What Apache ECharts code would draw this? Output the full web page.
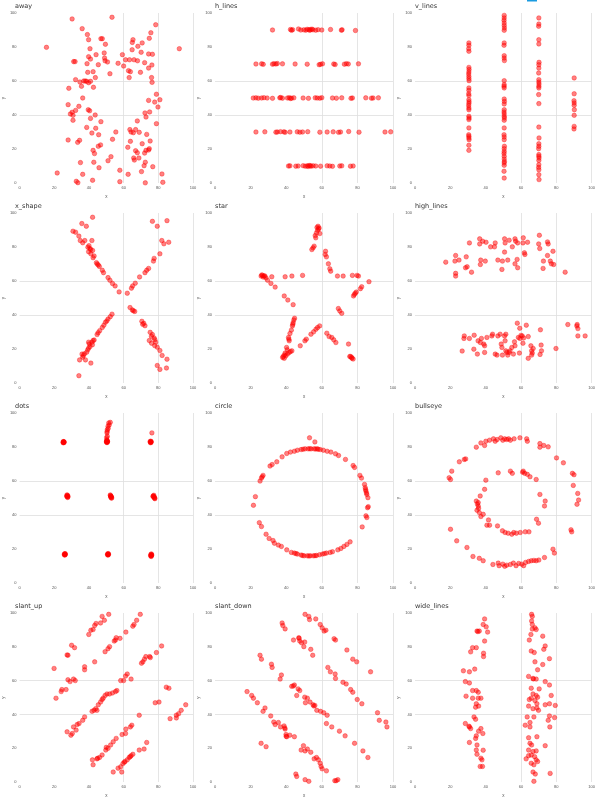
<!DOCTYPE html>
<html><head><meta charset="utf-8">
<script src="https://cdn.jsdelivr.net/npm/echarts@6/dist/echarts.min.js"></script>
<style>html,body{margin:0;padding:0;background:#fff}#c{width:598px;height:799px}</style>
</head><body><div id="c"></div>
<script>
const panelNames = ['away','h_lines','v_lines','x_shape','star','high_lines','dots','circle','bullseye','slant_up','slant_down','wide_lines'];
const tickValues = [0,20,40,60,80,100];

const away = [[30.3,96.5],[53.3,97.5],[36.1,90.8],[78.5,93.1],[75.7,88.4],[39.1,87.3],[39.8,84.3],[46.9,84.9],[47.7,84.9],[65.4,84.3],[65.0,82.7],[68.2,80.4],[70.7,82.4],[74.8,85.1],[64.9,78.4],[15.5,79.8],[92.1,79.0],[40.6,79.0],[49.5,81.6],[48.8,76.5],[44.1,75.5],[70.1,76.9],[74.4,75.9],[76.6,75.7],[59.3,75.5],[49.0,73.5],[39.8,74.3],[40.9,72.9],[49.3,71.9],[50.7,71.2],[61.1,72.5],[63.4,72.5],[66.0,72.5],[68.0,71.9],[31.2,71.4],[32.0,71.4],[38.9,70.2],[45.4,69.6],[56.8,70.4],[60.0,68.8],[72.1,70.8],[76.3,69.4],[74.4,67.6],[39.3,65.1],[42.4,65.5],[52.1,64.3],[62.8,66.1],[63.9,65.5],[69.7,65.1],[43.7,62.0],[63.2,62.0],[32.3,60.8],[34.8,59.4],[37.0,60.0],[37.9,60.0],[38.7,59.8],[39.8,59.0],[40.9,59.8],[76.1,62.0],[76.4,59.2],[35.7,56.9],[42.6,56.3],[28.4,55.7],[36.4,50.0],[78.9,52.2],[74.4,48.6],[80.9,49.0],[77.9,47.6],[79.8,44.7],[28.0,46.1],[34.2,45.1],[39.6,43.1],[40.4,42.5],[32.3,42.7],[30.3,41.6],[29.3,40.6],[30.8,39.8],[43.6,40.0],[72.3,41.2],[75.0,41.8],[72.9,38.8],[40.9,38.0],[30.8,36.9],[46.9,36.1],[67.9,36.5],[78.9,34.9],[55.5,30.0],[38.7,32.7],[43.9,32.2],[63.6,31.4],[64.3,30.0],[66.9,31.4],[65.6,29.6],[69.0,29.8],[73.3,28.6],[41.7,29.4],[45.6,28.4],[53.6,25.7],[63.9,24.5],[70.7,23.1],[75.3,24.7],[28.0,25.3],[34.6,25.1],[33.5,23.9],[46.7,22.4],[45.4,21.6],[62.4,21.0],[74.8,20.2],[74.4,19.4],[72.9,19.2],[66.9,19.0],[67.9,17.8],[72.1,17.6],[42.4,19.2],[43.2,17.3],[52.7,15.5],[51.0,13.1],[65.8,14.7],[68.8,14.7],[66.2,13.5],[72.5,12.2],[71.8,10.2],[76.8,9.6],[42.8,12.2],[35.1,12.0],[45.8,9.0],[57.8,7.5],[70.3,6.7],[21.7,5.9],[36.4,5.1],[62.6,5.1],[82.1,5.3],[32.7,1.0],[33.6,0.2],[42.1,1.6],[57.8,0.8],[72.5,0.1],[82.6,0.4]];

const h_lines = [[32.3,90],[42.4,90.3],[43.0,89.8],[43.6,90.2],[46.9,90.6],[49.9,90.1],[51.0,89.9],[51.8,90.4],[52.7,90.2],[53.3,89.8],[53.8,90.3],[55.1,90.1],[56.6,89.9],[57.9,90.2],[60.0,90.0],[64.9,90.3],[71.0,89.9],[71.4,90.1],[78.9,89.7],[48.2,90],[54.5,90.5],
[23.0,70],[26.2,70.1],[27.1,69.8],[32.3,69.9],[33.1,70.2],[34.2,70.0],[35.0,70.3],[37.9,70.1],[45.0,70.0],[51.8,69.9],[58.5,69.6],[59.3,69.8],[60.4,70.1],[66.7,70.0],[67.5,69.7],[72.7,69.9],[73.8,70.2],[74.9,70.0],[80.6,70.1],
[21.5,50],[23.0,50.1],[24.3,49.9],[26.2,50.0],[27.5,50.2],[29.3,50.0],[32.3,49.8],[36.4,50.1],[37.9,49.9],[40.7,50.0],[41.7,50.2],[43.0,49.9],[44.3,50.1],[49.5,50.0],[52.5,49.8],[56.3,50.1],[57.4,50.0],[58.9,49.9],[60.0,50.2],[66.0,50.0],[68.2,49.9],[71.2,50.1],[76.4,49.8],[77.2,50.0],[84.7,50.1],[87.9,49.9],[88.8,50.0],[91.8,50.1],[36.9,50.3],[42.4,49.7],
[23.0,30],[28.0,30.1],[34.2,29.9],[35.0,30.0],[36.8,30.2],[38.7,30.1],[39.4,29.8],[42.1,30.0],[46.2,30.1],[47.7,29.9],[49.2,30.0],[52.1,30.2],[58.9,29.9],[63.0,30.0],[66.4,30.1],[69.4,29.8],[70.5,30.0],[75.1,30.3],[80.9,29.9],[95.5,30.0],[98.7,30.1],
[41.3,10],[42.1,10.1],[45.4,9.9],[46.7,10.0],[49.5,10.2],[50.7,9.9],[51.8,10.1],[52.9,10.3],[54.0,9.9],[55.1,10.1],[56.6,10.0],[59.3,9.9],[63.0,10.1],[64.5,10.0],[66.0,9.8],[70.1,10.0],[71.2,10.1],[76.1,9.9],[77.6,10.0],[52.3,9.7],[53.5,10.2]];

const v_lines = [[30.5,82.4],[30.5,81.0],[30.4,79.0],[30.5,77.5],[30.5,68.0],[30.6,66.7],[30.5,65.3],[30.4,64.1],[30.5,62.7],[30.5,61.4],[30.6,60.2],[30.5,55.9],[30.5,54.5],[30.4,52.5],[30.5,51.4],[30.5,49.0],[30.6,47.8],[30.5,46.7],[30.4,45.5],[30.5,44.1],[30.5,43.1],[30.5,39.2],[30.6,38.2],[30.5,37.3],[30.5,32.4],[30.4,28.4],[30.5,27.5],[30.5,26.5],[30.6,25.5],[30.5,22.2],[30.5,19.2],
[50.5,98.6],[50.5,97.1],[50.4,95.7],[50.5,94.1],[50.5,92.7],[50.6,91.2],[50.5,89.8],[50.5,82.4],[50.4,81.0],[50.5,74.9],[50.5,73.5],[50.6,72.0],[50.5,60.2],[50.5,57.8],[50.4,56.9],[50.5,55.9],[50.5,49.4],[50.6,48.0],[50.5,46.5],[50.5,43.1],[50.4,41.8],[50.5,40.6],[50.5,39.2],[50.6,38.2],[50.5,36.9],[50.5,32.4],[50.4,28.4],[50.5,27.1],[50.5,25.5],[50.6,21.6],[50.5,20.2],[50.5,18.6],[50.4,17.3],[50.5,15.7],[50.5,14.1],[50.6,12.7],[50.5,11.8],[50.5,10.4],[50.4,6.9],[50.5,2.9],
[70.1,97.1],[70.1,93.5],[70.0,92.2],[70.1,84.3],[70.1,81.8],[70.2,71.0],[70.1,69.6],[70.1,67.6],[70.0,64.7],[70.1,60.8],[70.1,59.4],[70.2,58.2],[70.1,56.9],[70.1,55.9],[70.0,52.0],[70.1,46.7],[70.1,32.9],[70.2,26.5],[70.1,23.1],[70.1,21.6],[70.0,20.2],[70.1,16.7],[70.1,15.7],[70.2,14.7],[70.1,13.3],[70.1,10.8],[70.0,9.2],[70.1,7.8],[70.1,4.9],[70.2,2.0],
[90.1,61.8],[90.1,52.5],[90.0,48.4],[90.1,47.1],[90.1,45.7],[90.2,43.1],[90.1,39.8],[90.1,33.3],[90.0,31.8]];

const x_shape = [[42.1,97.5],[35.9,93.8],[38.5,92.2],[30.8,89.3],[32.3,88.7],[34.2,86.4],[35.0,83.8],[36.4,82.5],[37.6,83.8],[41.7,83.8],[39.4,79.9],[40.6,79.1],[39.8,77.2],[41.1,76.0],[42.1,78.0],[43.0,74.7],[42.4,73.7],[44.3,70.8],[45.4,69.4],[47.7,66.3],[48.4,64.9],[51.0,62.0],[52.1,60.4],[53.6,58.5],[55.1,57.1],[57.4,53.6],[40.0,80.8],[41.0,78.5],[44.8,70.0],[46.0,68.6],
[76.6,95.1],[85.0,95.5],[79.4,92.2],[82.0,83.8],[83.2,81.9],[86.0,82.8],[80.9,76.0],[77.6,73.3],[77.2,71.7],[74.4,67.4],[73.3,66.3],[72.3,64.9],[69.2,62.4],[66.7,58.7],[65.2,57.1],[64.5,55.8],[62.1,52.8],
[53.3,40.5],[52.3,39.0],[51.0,37.6],[49.5,35.7],[47.7,32.7],[46.2,30.8],[44.7,28.5],[43.0,25.3],[41.7,24.0],[39.8,24.0],[40.6,21.4],[39.3,19.5],[37.4,17.2],[36.4,15.2],[38.0,13.6],[34.6,13.6],[41.1,11.7],[34.2,4.3],[39.8,20.5],[42.4,25.0],[38.7,18.1],[36.8,16.2],[50.3,36.5],[48.6,34.0],[45.3,29.6],[42.0,22.5],[40.2,23.0],[36.0,17.0],
[63.7,44.4],[65.6,42.5],[66.4,42.1],[70.5,36.3],[71.6,35.1],[72.3,33.7],[75.3,29.8],[76.6,28.5],[77.6,26.5],[74.8,25.0],[78.5,24.0],[77.9,22.0],[79.4,21.1],[80.9,19.1],[82.2,16.2],[85.0,14.0],[79.4,10.3],[80.9,8.0],[84.7,8.8],[76.1,23.4],[65.0,43.0],[71.0,34.5],[76.0,27.5],[78.0,25.5]];

const star = [[57.9,92.2],[58.5,91.2],[57.6,89.8],[58.9,87.9],[56.3,86.7],[57.0,88.3],[56.6,85.4],[58.2,90.6],[57.3,91.5],[55.7,80.5],[54.4,78.5],[55.1,79.5],[62.1,77.5],[61.9,75.6],[62.6,74.2],[63.7,70.1],[64.5,67.2],[65.0,65.8],
[26.7,63.3],[27.6,62.9],[28.6,61.9],[29.5,60.5],[25.9,62.9],[26.3,63.6],[27.1,62.3],[28.0,63.0],[31.4,58.6],[33.8,56.4],[31.9,62.5],[39.4,62.5],[43.2,62.9],[49.2,63.3],[38.9,51.2],[40.9,48.8],[43.9,46.1],
[68.8,62.9],[72.0,62.9],[77.2,63.3],[79.8,63.3],[80.6,62.9],[86.5,59.6],[82.4,56.6],[81.7,55.5],[79.4,53.5],[78.3,52.1],[77.8,51.2],[78.8,52.8],
[69.3,43.8],[70.1,42.4],[71.2,41.0],[62.8,29.3],[64.1,27.3],[65.6,26.8],[66.7,25.4],[67.9,23.8],[75.0,22.9],[75.7,15.6],[76.8,15.0],[77.6,14.1],[76.2,15.6],[76.9,14.6],
[44.7,38.1],[43.9,35.5],[43.5,33.6],[42.9,31.1],[42.1,29.1],[41.3,26.8],[41.7,24.8],[40.2,20.9],[40.6,19.5],[39.4,17.6],[38.3,15.6],[38.9,14.5],[39.8,16.0],[40.7,17.0],[41.7,18.0],[43.2,18.9],[47.9,21.9],[50.5,24.8],[51.3,25.8],[53.9,28.7],[55.4,30.1],[56.7,31.6],[57.6,32.6],[58.8,33.6],[44.3,37.1],[43.7,34.5],[41.5,25.8],[38.0,15.0],[39.0,16.5],[42.4,18.5]];

const high_lines = [[17.4,71.1],[23.0,75.0],[22.6,71.7],[24.9,72.3],[29.0,74.2],[28.6,67.8],[29.5,68.4],[23.0,64.5],[23.0,62.9],[32.0,65.2],[30.8,82.4],[36.6,84.8],[38.3,83.4],[40.2,82.8],[36.6,81.8],[42.8,80.1],[45.0,80.1],[45.4,82.4],[50.7,84.8],[51.0,82.4],[53.3,84.0],[56.6,84.8],[57.0,83.4],[55.1,80.1],[58.1,82.4],[61.3,85.4],[61.1,82.4],[63.7,82.8],[61.9,76.6],[62.2,75.6],[70.4,86.9],[70.0,81.8],[70.6,79.1],[75.0,83.0],[75.4,81.8],[78.1,77.5],[75.0,75.0],[72.7,71.7],[72.5,67.4],[76.6,71.7],[77.2,70.1],[78.5,69.7],[85.0,65.2],[37.2,72.3],[37.0,69.7],[39.8,71.7],[46.9,72.3],[49.2,66.8],[49.5,71.7],[52.5,72.3],[56.6,70.1],[57.8,72.7],[58.1,67.8],[50.7,77.0],
[86.5,34.4],[91.8,34.4],[92.2,32.0],[92.2,27.7],[96.3,27.7],[91.6,33.6],[57.9,35.2],[59.3,32.2],[63.0,34.0],[64.1,27.3],[71.0,31.3],[71.4,22.3],[79.8,20.3],[27.9,27.7],[27.7,26.2],[30.8,26.2],[33.5,28.1],[26.7,18.8],[33.3,19.9],[35.3,17.0],[35.7,24.8],[37.6,26.2],[37.0,23.8],[38.9,22.9],[39.4,21.9],[39.4,18.0],[40.7,26.8],[43.5,27.7],[43.9,28.7],[45.4,17.0],[46.4,16.4],[46.9,27.7],[48.2,28.7],[48.8,22.9],[49.2,20.9],[49.5,16.4],[50.7,27.7],[51.4,28.7],[51.0,24.8],[51.4,18.9],[52.0,18.0],[52.5,16.4],[53.3,18.0],[53.8,18.9],[54.8,20.9],[55.7,17.0],[56.3,24.2],[56.6,21.9],[58.5,26.8],[59.4,26.2],[59.1,17.6],[60.7,27.7],[61.1,23.4],[64.1,14.5],[65.6,21.9],[66.0,18.9],[66.4,17.6],[66.9,20.3],[70.8,16.8],[71.6,18.9],[66.0,16.4],[60.0,28.0],[61.5,26.5]];

const dots = [[25.3,82.8],[25.6,83.1],[25.1,82.6],[25.5,82.9],[25.2,83.2],[25.7,82.7],[25.4,83.0],[25.3,82.5],
[50.4,83.0],[50.6,83.4],[50.2,82.8],[50.5,83.8],[50.3,84.2],[50.7,83.1],[50.4,82.6],[50.6,82.9],[50.2,83.5],[51.1,90.9],[50.5,89.1],[50.2,85.5],[50.1,83.1],[51.4,94.1],[52.3,94.5],[51.0,92.2],[50.6,90.2],[50.4,88.3],[50.6,86.3],[51.7,93.0],
[75.6,83.0],[75.3,83.3],[75.8,82.7],[75.5,82.5],[75.7,83.4],[75.4,82.9],[75.9,83.1],[76.3,88.3],
[27.4,51.2],[27.6,51.6],[27.2,51.0],[27.8,50.6],[27.5,50.9],[27.3,51.8],[27.7,50.3],[27.9,51.1],
[52.5,51.2],[52.3,51.8],[52.8,50.9],[52.6,50.4],[53.1,50.2],[52.4,51.4],[52.9,50.7],[53.0,49.9],
[77.1,51.2],[77.4,51.6],[76.9,50.9],[77.6,50.5],[77.9,49.8],[78.0,49.6],[77.3,51.0],[77.8,50.2],
[26.1,16.8],[25.9,17.1],[26.3,16.6],[26.0,16.4],[26.4,17.0],[26.2,17.3],[25.8,16.7],
[51.0,16.8],[50.8,17.1],[51.2,16.6],[50.9,16.4],[51.3,17.0],[51.1,17.3],[50.7,16.7],
[75.9,16.4],[75.7,16.8],[76.1,16.2],[75.8,15.9],[76.2,16.6],[76.0,17.1],[75.6,16.1],[75.9,15.6]];

const circle = [[53.1,85.4],[56.1,83.0],[37.7,74.2],[40.3,76.2],[42.4,77.0],[44.6,77.5],[46.3,78.1],[48.4,78.5],[50.6,78.9],[52.3,78.9],[54.0,78.9],[55.7,78.9],[57.4,78.9],[59.1,78.5],[60.9,78.1],[63.0,77.5],[65.1,77.0],[67.7,76.0],[69.4,75.0],[73.3,72.7],[34.7,71.3],[32.1,69.7],[30.9,68.8],[77.6,69.1],[78.4,68.0],[81.4,63.3],[82.3,61.7],[27.0,63.3],[26.1,61.7],[25.3,59.96],[26.5,62.5],[84.0,58.0],[84.4,56.1],[84.8,54.1],[85.3,52.1],[85.9,50.2],[22.7,50.8],[21.6,45.7],[86.1,44.9],[85.7,44.3],[84.8,39.5],[85.3,38.5],[82.7,33.0],[24.9,35.5],[26.1,33.2],[28.7,28.7],[30.4,26.2],[32.6,25.0],[33.4,23.4],[35.6,22.3],[37.3,21.5],[40.3,19.5],[42.9,18.0],[44.6,17.6],[46.3,17.0],[48.4,16.4],[50.1,16.0],[51.9,16.0],[53.6,16.0],[55.3,16.0],[57.0,16.2],[58.7,16.6],[60.4,17.0],[62.6,17.6],[64.7,18.0],[66.0,18.4],[69.0,19.5],[70.7,20.3],[72.4,21.5],[74.1,22.7],[75.9,24.2],[49.5,78.7],[53.2,79.0],[56.5,78.8],[58.0,78.7],[45.5,17.3],[49.2,16.2],[52.8,15.9],[56.2,16.1],[61.5,17.3],[84.6,55.0],[85.1,53.0]];

const bullseye = [[34.7,79.9],[37.3,82.4],[39.4,80.9],[40.1,83.4],[42.2,84.0],[44.4,84.8],[45.4,83.4],[46.5,84.4],[48.6,85.4],[49.7,84.0],[50.8,84.8],[51.9,84.4],[53.0,84.8],[54.0,84.0],[56.1,84.8],[59.4,85.4],[63.2,84.8],[63.6,83.4],[70.7,82.0],[72.9,80.9],[70.7,79.9],[75.4,80.1],[80.1,73.6],[84.0,70.7],[27.9,72.7],[25.1,71.3],[28.7,73.0],[20.8,65.8],[19.3,61.9],[20.1,60.9],[89.1,64.5],[90.0,63.7],[89.6,57.4],[92.1,52.7],[92.6,48.8],[91.7,46.3],[20.1,31.6],[23.6,24.8],[29.4,20.9],[32.8,15.6],[36.4,14.5],[38.6,13.1],[44.1,10.9],[47.1,11.7],[47.6,10.2],[49.7,11.1],[50.8,9.8],[51.9,10.5],[54.0,10.9],[55.7,11.7],[57.2,10.2],[58.7,11.5],[60.4,11.1],[61.5,10.2],[62.6,12.1],[64.3,12.7],[65.8,13.1],[67.3,13.3],[68.6,13.1],[70.1,13.5],[73.3,15.0],[78.1,19.9],[78.9,17.6],[88.3,31.3],[88.7,30.1],
[47.1,64.8],[54.0,65.8],[55.1,64.5],[60.9,65.2],[62.1,64.5],[63.6,63.9],[65.1,62.5],[61.3,65.8],[68.6,60.9],[40.1,60.5],[39.4,55.1],[36.9,51.2],[35.8,47.3],[34.7,48.2],[35.8,45.3],[35.1,42.8],[36.4,41.4],[38.6,40.4],[37.3,39.1],[41.6,37.1],[40.7,34.0],[42.2,34.0],[46.7,33.6],[49.5,30.7],[51.0,29.7],[52.7,29.3],[54.8,28.7],[55.9,29.7],[57.4,29.3],[59.6,29.7],[62.4,30.1],[64.5,30.1],[68.8,37.5],[69.9,35.2],[70.7,52.1],[73.7,48.2],[73.3,45.3],[35.3,46.5],[36.0,44.0]];

const slant_up = [[51.4,99.2],[47.6,98.0],[48.9,95.7],[46.7,94.1],[44.1,93.8],[43.3,92.6],[42.4,90.2],[41.1,89.8],[39.9,87.3],[69.6,99.2],[67.5,95.7],[66.0,93.2],[65.3,92.2],[61.3,88.7],[57.9,85.0],[55.7,85.4],[54.6,83.4],[55.3,84.0],[51.9,80.1],[51.0,78.9],[49.3,77.1],[43.3,71.1],[30.0,80.9],[31.7,79.5],[27.9,75.0],[27.4,75.2],[19.9,67.2],[37.5,68.2],[37.5,66.4],[27.9,60.5],[29.1,59.4],[31.1,60.9],[32.1,60.0],[26.8,54.7],[24.4,54.7],[24.0,53.5],[21.0,49.6],[81.9,80.5],[78.9,76.6],[75.0,74.2],[72.8,74.2],[75.4,73.6],[72.0,72.7],[71.1,71.1],[70.3,70.3],[62.1,63.9],[61.1,62.7],[64.3,60.9],[60.0,60.0],[58.3,60.0],[56.1,54.1],[55.3,53.5],[53.6,52.7],[51.9,52.1],[50.4,52.1],[49.3,51.2],[48.2,49.6],[47.6,48.8],[46.7,47.3],[45.4,45.7],[43.9,43.4],[42.9,42.4],[41.8,41.8],[44.6,42.4],[37.5,38.5],[36.4,36.5],[34.3,34.6],[33.2,34.0],[31.1,32.6],[32.6,30.7],[30.4,28.7],[29.6,27.7],[27.4,29.7],[84.6,56.1],[86.1,55.5],[78.2,46.9],[80.4,47.3],[95.8,45.7],[93.2,42.4],[91.7,40.4],[90.4,39.5],[90.4,37.9],[86.8,37.5],[69.0,39.5],[64.7,33.6],[63.9,32.6],[61.3,31.3],[59.1,28.1],[61.1,28.7],[55.7,25.8],[54.0,23.8],[52.5,21.9],[51.0,19.9],[49.7,18.9],[47.6,16.0],[46.1,14.5],[44.6,13.7],[42.0,13.1],[42.4,10.2],[73.3,23.4],[71.8,19.5],[69.0,18.9],[65.3,16.4],[64.3,15.6],[63.2,14.5],[62.1,13.1],[60.4,11.7],[59.6,10.9],[58.3,9.0],[56.8,8.2],[58.9,5.9],[54.0,5.9],[50.0,20.5],[45.0,14.0],[60.8,12.2],[63.8,15.0]];

const slant_down = [[50.6,99.2],[52.7,98.0],[53.1,96.1],[56.6,96.5],[59.1,93.2],[60.2,91.2],[62.3,89.8],[61.3,89.3],[37.7,94.1],[38.1,92.6],[39.4,90.6],[44.1,84.0],[47.1,85.4],[47.6,83.4],[48.6,82.4],[49.9,80.1],[50.4,82.8],[53.8,78.5],[54.9,75.0],[66.9,84.8],[67.7,84.0],[74.1,78.1],[77.4,72.7],[79.6,71.1],[87.4,65.2],[25.3,75.0],[26.1,72.7],[31.7,69.7],[32.1,67.8],[37.3,63.3],[36.6,60.9],[43.1,56.6],[44.6,57.4],[46.7,55.1],[47.6,54.1],[45.9,51.2],[50.4,50.2],[51.9,49.6],[50.8,46.9],[53.4,47.3],[55.1,45.7],[56.1,45.3],[57.2,42.4],[59.3,41.8],[61.1,41.0],[63.0,39.5],[63.4,67.8],[64.8,65.2],[67.5,63.9],[67.7,61.3],[71.9,59.0],[73.7,58.0],[76.2,54.7],[77.4,53.1],[79.9,48.8],[82.5,46.3],[91.3,41.0],[92.3,36.5],[96.0,35.5],[96.6,32.6],[62.6,34.6],[65.6,32.6],[69.9,30.1],[73.1,27.3],[78.4,22.9],[83.1,18.4],[85.9,14.5],[18.0,53.5],[20.6,51.2],[21.6,49.6],[23.8,46.9],[28.1,43.8],[27.0,41.8],[31.3,39.1],[33.0,35.5],[33.8,34.0],[35.6,35.2],[36.8,32.6],[38.8,33.2],[39.4,31.3],[39.9,28.1],[40.3,26.8],[42.0,27.7],[44.6,26.8],[25.9,22.9],[28.7,20.9],[49.7,21.5],[48.4,18.9],[50.6,18.4],[51.9,19.5],[53.8,17.6],[55.7,13.7],[57.0,14.5],[58.1,13.1],[59.1,11.1],[59.6,9.2],[60.2,7.8],[62.6,6.6],[45.4,4.7],[45.9,3.3],[50.6,1.4],[52.7,0.4],[67.3,0.8],[69.0,1.4],[68.1,0.8],[44.0,56.8],[47.2,85.0],[55.5,45.0],[39.2,32.0],[40.0,27.0]];

const wide_lines = [[39.4,96.5],[38.6,93.2],[40.3,91.8],[35.1,89.3],[36.4,89.3],[41.1,88.7],[39.4,83.4],[32.6,79.5],[34.7,79.5],[31.5,77.0],[38.8,76.2],[38.8,74.2],[27.4,65.8],[30.8,65.2],[33.8,66.8],[28.5,59.4],[30.8,58.6],[32.6,54.1],[34.7,54.1],[35.8,53.1],[28.9,50.8],[32.6,49.6],[35.8,49.6],[37.3,49.6],[34.7,46.3],[34.3,44.3],[36.0,44.9],[33.4,38.5],[34.3,37.1],[28.5,34.6],[30.8,32.6],[31.5,31.6],[37.3,31.6],[36.0,30.1],[38.4,28.7],[34.7,27.3],[34.3,25.8],[30.8,23.4],[35.1,21.9],[38.6,18.8],[34.7,18.9],[35.1,16.4],[37.3,14.1],[37.9,13.1],[36.9,9.2],[38.2,9.2],[35.6,89.0],[30.6,33.0],
[66.0,99.2],[66.4,98.0],[66.0,95.3],[66.4,93.2],[67.9,91.2],[68.6,90.2],[65.6,87.3],[64.7,84.0],[72.3,86.3],[73.7,80.5],[65.8,77.5],[72.9,78.5],[67.5,76.6],[76.1,73.0],[67.9,71.1],[72.3,69.5],[69.4,66.4],[64.3,62.5],[66.8,61.3],[68.6,60.9],[73.7,59.4],[76.1,57.4],[65.8,55.5],[70.3,55.1],[66.8,52.1],[68.6,51.2],[69.4,50.2],[77.1,51.2],[64.7,48.8],[65.8,49.6],[67.9,48.2],[69.0,46.3],[64.3,44.9],[73.7,45.7],[76.1,46.3],[79.4,45.3],[69.0,43.8],[66.8,43.4],[69.9,42.4],[63.5,38.5],[67.3,38.5],[76.1,39.1],[79.0,38.1],[75.4,36.5],[62.4,33.6],[65.1,32.6],[76.3,32.6],[65.1,35.2],[64.3,26.2],[69.0,26.8],[65.1,22.9],[66.0,21.9],[73.7,21.5],[64.3,18.9],[66.8,18.0],[68.6,18.4],[64.3,15.6],[65.8,16.0],[67.7,15.0],[62.9,13.7],[68.6,13.1],[69.4,12.1],[65.8,11.1],[67.3,10.2],[66.8,5.9],[68.1,4.7],[76.5,5.1],[67.3,0.4],[66.4,90.5],[67.0,61.0]];

const panelData = [away,h_lines,v_lines,x_shape,star,high_lines,dots,circle,bullseye,slant_up,slant_down,wide_lines];

const chart = echarts.init(document.getElementById('c'), null, {renderer:'canvas'});
const T = 'rgba(0,0,0,0)', G = '#dedede';
const grid=[], xAxis=[], yAxis=[], series=[], title=[];
panelNames.forEach((name,i)=>{
  const r = Math.floor(i/3), c = i%3;
  grid.push({left:200*c+15, top:200*r+13, width:178, height:170});
  title.push({text:name, left:200*c+15, top:200*r+3, padding:0, textStyle:{fontSize:6.5, fontWeight:'normal', color:'#333', fontFamily:'DejaVu Sans'}});
  xAxis.push({type:'value', gridIndex:i, min:tickValues[0], max:tickValues[tickValues.length-1], interval:20,
    axisLine:{show:false}, axisTick:{show:false},
    axisLabel:{fontSize:4, color:'#555', margin:3},
    splitLine:{show:true, lineStyle:{color:[T,T,T,G,G,G], width:0.8}},
    name:'x', nameLocation:'middle', nameGap:11, nameTextStyle:{fontSize:4.5, color:'#555'}});
  yAxis.push({type:'value', gridIndex:i, min:tickValues[0], max:tickValues[tickValues.length-1], interval:20,
    axisLine:{show:false}, axisTick:{show:false},
    axisLabel:{fontSize:4, color:'#555', margin:3},
    splitLine:{show:true, lineStyle:{color:[T,T,G,G,T,T], width:0.8}},
    name:'y', nameLocation:'middle', nameGap:10, nameTextStyle:{fontSize:4.5, color:'#555'}});
  series.push({type:'scatter', name:name, xAxisIndex:i, yAxisIndex:i, data:panelData[i], symbolSize:4.5,
    itemStyle:{color:'rgba(255,0,0,0.62)', borderColor:'rgba(255,0,0,0.9)', borderWidth:0.5}, animation:false});
});
chart.setOption({
  animation:false, backgroundColor:'#fff',
  title, grid, xAxis, yAxis, series,
  graphic:[{type:'rect', left:527, top:0, shape:{width:10, height:1.5}, style:{fill:'#1a9be0'}, silent:true}]
});
</script></body></html>
